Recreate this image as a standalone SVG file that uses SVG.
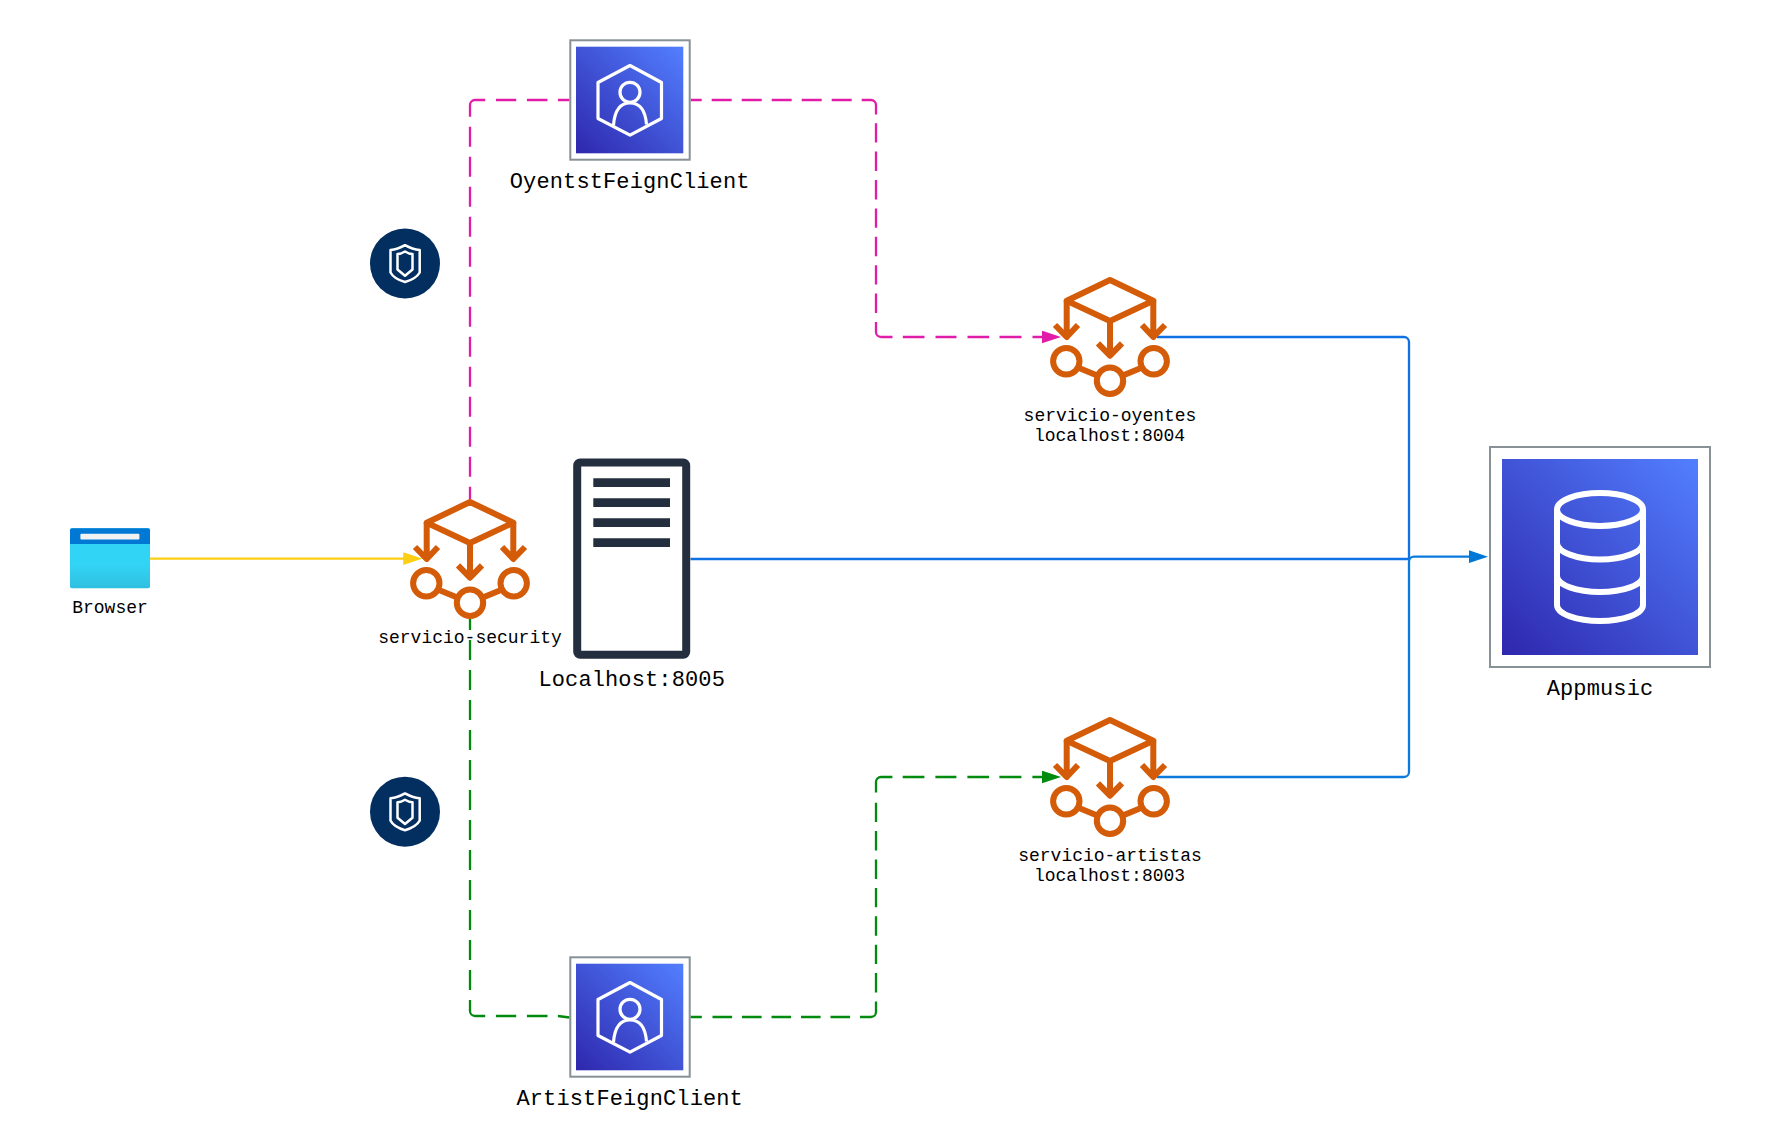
<svg xmlns="http://www.w3.org/2000/svg" width="1780" height="1147" viewBox="0 0 1780 1147">
<style>
text{font-family:"Liberation Mono",monospace;fill:#000;text-anchor:middle}
.t18{font-size:18px}
.t22{font-size:22px;letter-spacing:.12px}
.c{fill:none;stroke-width:2.300}
.pink{stroke:#e11ca9}
.green{stroke:#008a0e}
.orange{fill:none;stroke:#d45b07;stroke-width:6;stroke-linejoin:round}
.frame{fill:#fff;stroke:#879196;stroke-width:2}
.ink{fill:none;stroke:#fff}
</style>
<defs>
<linearGradient id="aws" x1="0" y1="1" x2="1" y2="0"><stop offset="0" stop-color="#2e27ad"/><stop offset="1" stop-color="#527fff"/></linearGradient>
<linearGradient id="win" x1="0" y1="0" x2="0" y2="1"><stop offset="0" stop-color="#32d4f5"/><stop offset=".6" stop-color="#32d4f5"/><stop offset="1" stop-color="#2fbfe0"/></linearGradient>
<marker id="aY" markerUnits="userSpaceOnUse" markerWidth="19" markerHeight="13" viewBox="0 0 18 12" refX="13" refY="6" orient="auto"><path d="M0 0L18 6L0 12Z" fill="#fcce14"/></marker>
<marker id="aP" markerUnits="userSpaceOnUse" markerWidth="19" markerHeight="13" viewBox="0 0 18 12" refX="13" refY="6" orient="auto"><path d="M0 0L18 6L0 12Z" fill="#e11ca9"/></marker>
<marker id="aG" markerUnits="userSpaceOnUse" markerWidth="19" markerHeight="13" viewBox="0 0 18 12" refX="13" refY="6" orient="auto"><path d="M0 0L18 6L0 12Z" fill="#008a0e"/></marker>
<marker id="aB" markerUnits="userSpaceOnUse" markerWidth="19" markerHeight="13" viewBox="0 0 18 12" refX="13" refY="6" orient="auto"><path d="M0 0L18 6L0 12Z" fill="#0078d7"/></marker>
<g id="svc" class="orange">
<path d="M1110 280L1153.300 300.700L1110 321L1066.700 300.700Z"/>
<path d="M1066.700 300.700V335M1055 325L1066.700 337L1078 325"/>
<path d="M1110 321V354.700M1098 343.300L1110 355.700L1122 343.300"/>
<path d="M1153.300 300.700V335M1142 325L1153.300 337L1165 325"/>
<circle cx="1066.300" cy="361.300" r="13.200"/><circle cx="1110" cy="380.700" r="13.200"/><circle cx="1153.700" cy="361.300" r="13.200"/>
<path d="M1079 368L1096 375M1124 375L1141 368"/>
</g>
<g id="feign">
<rect class="frame" x="570.300" y="40.300" width="119.400" height="119.400"/>
<rect x="576" y="46.700" width="107.300" height="106.600" fill="url(#aws)"/>
<path class="ink" stroke-width="3.200" stroke-linejoin="round" d="M630 65.500L661.500 82.500V118.500L630 135.200L598 118.500V82.500Z"/>
<circle class="ink" stroke-width="3.200" cx="630" cy="92.300" r="10"/>
<path class="ink" stroke-width="3.200" d="M613.500 125.500C614.500 111 620 103 630 103C640 103 645.500 111 646.500 124.500"/>
</g>
<g id="shield">
<circle cx="405" cy="263.500" r="35" fill="#022e60"/>
<path class="ink" stroke-width="2.500" stroke-linejoin="round" d="M405 245.200Q397.500 249.500 390.500 250V272.500Q394 279 405 282Q416 279 419.700 272.500V250Q412.500 249.500 405 245.200Z"/>
<path class="ink" stroke-width="2.500" stroke-linejoin="round" d="M405 251.500Q401 254 397.500 254V269.500L405 275.800L412.500 269.500V254Q409 254 405 251.500Z"/>
</g>
</defs>
<rect width="1780" height="1147" fill="#fff"/>
<g id="connectors">
<path class="c" stroke="#fcce14" d="M150 558.700H417" marker-end="url(#aY)"/>
<path class="c pink" stroke-dasharray="12.600 10 20 10 20 10 20 10 20 10 20 10 20 10 20 10 20 10 20 10 20 10 20 10 20 10 29.550 10.700 20.300 10.700 20.600 10.400 11.800 100" d="M470 499.300V105A5 5 0 0 1 475 100H569.500"/>
<path class="c pink" stroke-dasharray="11 10 20 10 20 10 20 10 20 10 20 10 26.450 8.700 19.400 9 19.400 9 19.400 9 19.400 9 19.400 9 19.400 9 19.400 9 29.150 10.300 21.700 11 21 11 21.700 10.300 22 11 30" d="M690.700 100H871A5 5 0 0 1 876 105V332A5 5 0 0 0 881 337H1055.700" marker-end="url(#aP)"/>
<path class="c green" stroke-dasharray="11.700 10 20 10 20 10 20 10 20 10 20 10 20 10 20 10 20 10 20 10 20 10 20 10 20 10 28.850 10.700 20.300 10.700 20.600 10.400 30" d="M470 618.300V1011A5 5 0 0 0 475 1016H558L569.500 1017.500"/>
<path class="c green" stroke-dasharray="11.300 10.700 19.600 9.900 19.600 9.900 19.600 9.900 19.600 9.900 19.600 9.900 29.150 9 19.400 9 19.400 9 19.400 9 19.400 9 19.400 9 19.400 9 19.400 10.200 29.550 10.300 21.700 11 21 11 21.700 10.300 22 11 30" d="M690.500 1017H871A5 5 0 0 0 876 1012V782A5 5 0 0 1 881 777H1055.700" marker-end="url(#aG)"/>
<path class="c" stroke="#1071e5" d="M1157 337H1404A5 5 0 0 1 1409 342V559"/>
<path class="c" stroke="#1071e5" d="M690.500 559H1409"/>
<path class="c" stroke="#0a7bdc" d="M1157 777H1404A5 5 0 0 0 1409 772V561.700A5 5 0 0 1 1414 556.700H1482.700" marker-end="url(#aB)"/>
</g>
<g id="browser">
<rect x="70" y="528.300" width="80" height="60" rx="2" fill="url(#win)"/>
<path d="M70 544V530.300A2 2 0 0 1 72 528.300H148A2 2 0 0 1 150 530.300V544Z" fill="#0078d4"/>
<rect x="80.400" y="533.700" width="59" height="5.700" rx="1" fill="#f2f2f2"/>
<text class="t18" x="110" y="612.700">Browser</text>
</g>
<g id="servicio-security">
<use href="#svc" x="-640" y="222"/>
<text class="t18" x="470" y="642.700">servicio-security</text>
</g>
<g id="localhost-8005">
<rect x="577.200" y="462.500" width="109" height="192.200" rx="3" fill="#fff" stroke="#232f3e" stroke-width="8"/>
<path fill="#232f3e" d="M593.300 478.300H670V487H593.300ZM593.300 498.300H670V507H593.300ZM593.300 518.300H670V527H593.300ZM593.300 538.300H670V547H593.300Z"/>
<text class="t22" x="631.700" y="686">Localhost:8005</text>
</g>
<g id="oyentst-feign-client">
<use href="#feign"/>
<text class="t22" x="629.700" y="187.500">OyentstFeignClient</text>
</g>
<g id="artist-feign-client">
<use href="#feign" y="917"/>
<text class="t22" x="629.700" y="1104.500">ArtistFeignClient</text>
</g>
<g id="shield-top"><use href="#shield"/></g>
<g id="shield-bottom"><use href="#shield" y="548.200"/></g>
<g id="servicio-oyentes">
<use href="#svc"/>
<text class="t18" x="1110" y="421.300">servicio-oyentes</text>
<text class="t18" x="1109.500" y="441.300">localhost:8004</text>
</g>
<g id="servicio-artistas">
<use href="#svc" y="440"/>
<text class="t18" x="1110" y="861.300">servicio-artistas</text>
<text class="t18" x="1109.500" y="881.300">localhost:8003</text>
</g>
<g id="appmusic">
<rect class="frame" x="1490" y="447" width="220" height="220"/>
<rect x="1502" y="459" width="196" height="196" fill="url(#aws)"/>
<ellipse class="ink" stroke-width="6" cx="1600" cy="509.500" rx="43" ry="16.500"/>
<path class="ink" stroke-width="6" d="M1557 509.500V605C1557 614 1577 621 1600 621C1623 621 1643 614 1643 605V509.500"/>
<path class="ink" stroke-width="6" d="M1557 543C1557 552 1577 559.500 1600 559.500C1623 559.500 1643 552 1643 543M1557 576C1557 585 1577 592 1600 592C1623 592 1643 585 1643 576"/>
<text class="t22" x="1600" y="694.500">Appmusic</text>
</g>
</svg>
